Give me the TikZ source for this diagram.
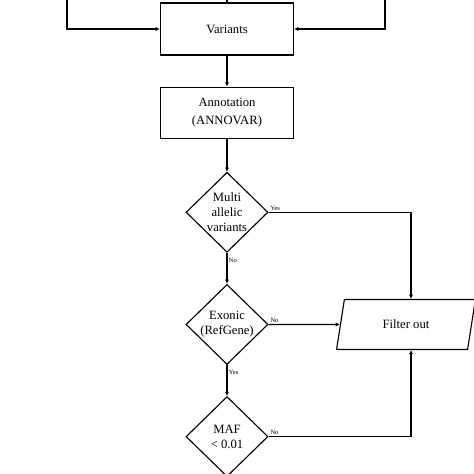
\documentclass[tikz,border=0pt]{standalone}
\usepackage{fontspec}
\setmainfont{Liberation Serif}
\usetikzlibrary{shapes.geometric,arrows.meta,positioning}
\tikzset{
  fbox/.style={rectangle,draw,line width=0.8pt,minimum width=3.325cm,
               minimum height=1.3cm,align=center,inner sep=2pt,
               font=\fontsize{9}{12.5}\selectfont},
  fdec/.style={diamond,draw,line width=0.8pt,minimum width=2.05cm,
               minimum height=2cm,inner sep=-4pt,align=center,
               font=\fontsize{9}{10.8}\selectfont},
  fout/.style={trapezium,trapezium left angle=79,trapezium right angle=101,
               trapezium stretches=true,draw,line width=0.8pt,
               minimum width=3.475cm,minimum height=1.25cm,
               font=\fontsize{9}{12}\selectfont},
  fedge/.style={-{Latex[length=3pt,width=3pt]},line width=0.8pt},
  fline/.style={line width=0.8pt},
  flab/.style={font=\fontsize{4.6}{5}\selectfont,inner sep=1pt},
}

\begin{document}
\begin{tikzpicture}[x=0.025cm,y=-0.025cm]
  \useasboundingbox (0,0) rectangle (474,474);
  % main column
  \node[fbox] (var) at (227,29) {Variants};
  \node[fbox,below=0.775cm of var,minimum height=1.275cm] (annot) {Annotation\\(ANNOVAR)};
  \node[fdec,below=0.825cm of annot] (multi) {Multi\\allelic\\variants};
  \node[fdec,below=0.775cm of multi] (exon) {Exonic\\(RefGene)};
  \node[fdec,below=0.775cm of exon] (maf) {MAF\\< 0.01};
  \coordinate (fxc) at (406,0);
  \node[fout] (filt) at (exon -| fxc) {Filter out};
  % free ends
  \coordinate (topin) at (227,0);
  \coordinate (leftin) at (67,0);
  \coordinate (rightin) at (385,0);
  \coordinate (botout) at (227,474);
  \coordinate (fx) at (411,322);
  % connectors
  \draw[fline] (topin) -- (var.north);
  \draw[fedge] (leftin) |- (var.west);
  \draw[fedge] (rightin) |- (var.east);
  \draw[fedge] (var) -- (annot);
  \draw[fedge] (annot) -- (multi);
  \draw[fedge] (multi) -- node[flab,right,pos=0.25] {No} (exon);
  \draw[fedge] (multi.east) node[flab,above right] {Yes}
    -- (multi.east -| fx) -- (fx |- filt.north);
  \draw[fedge] (exon.east) node[flab,above right] {No} -- (filt);
  \draw[fedge] (exon) -- node[flab,right,pos=0.25] {Yes} (maf);
  \draw[fedge] (maf.east) node[flab,above right] {No}
    -- (maf.east -| fx) -- (fx |- filt.south);
  \draw[fline] (maf.south) -- (botout);
\end{tikzpicture}
\end{document}
